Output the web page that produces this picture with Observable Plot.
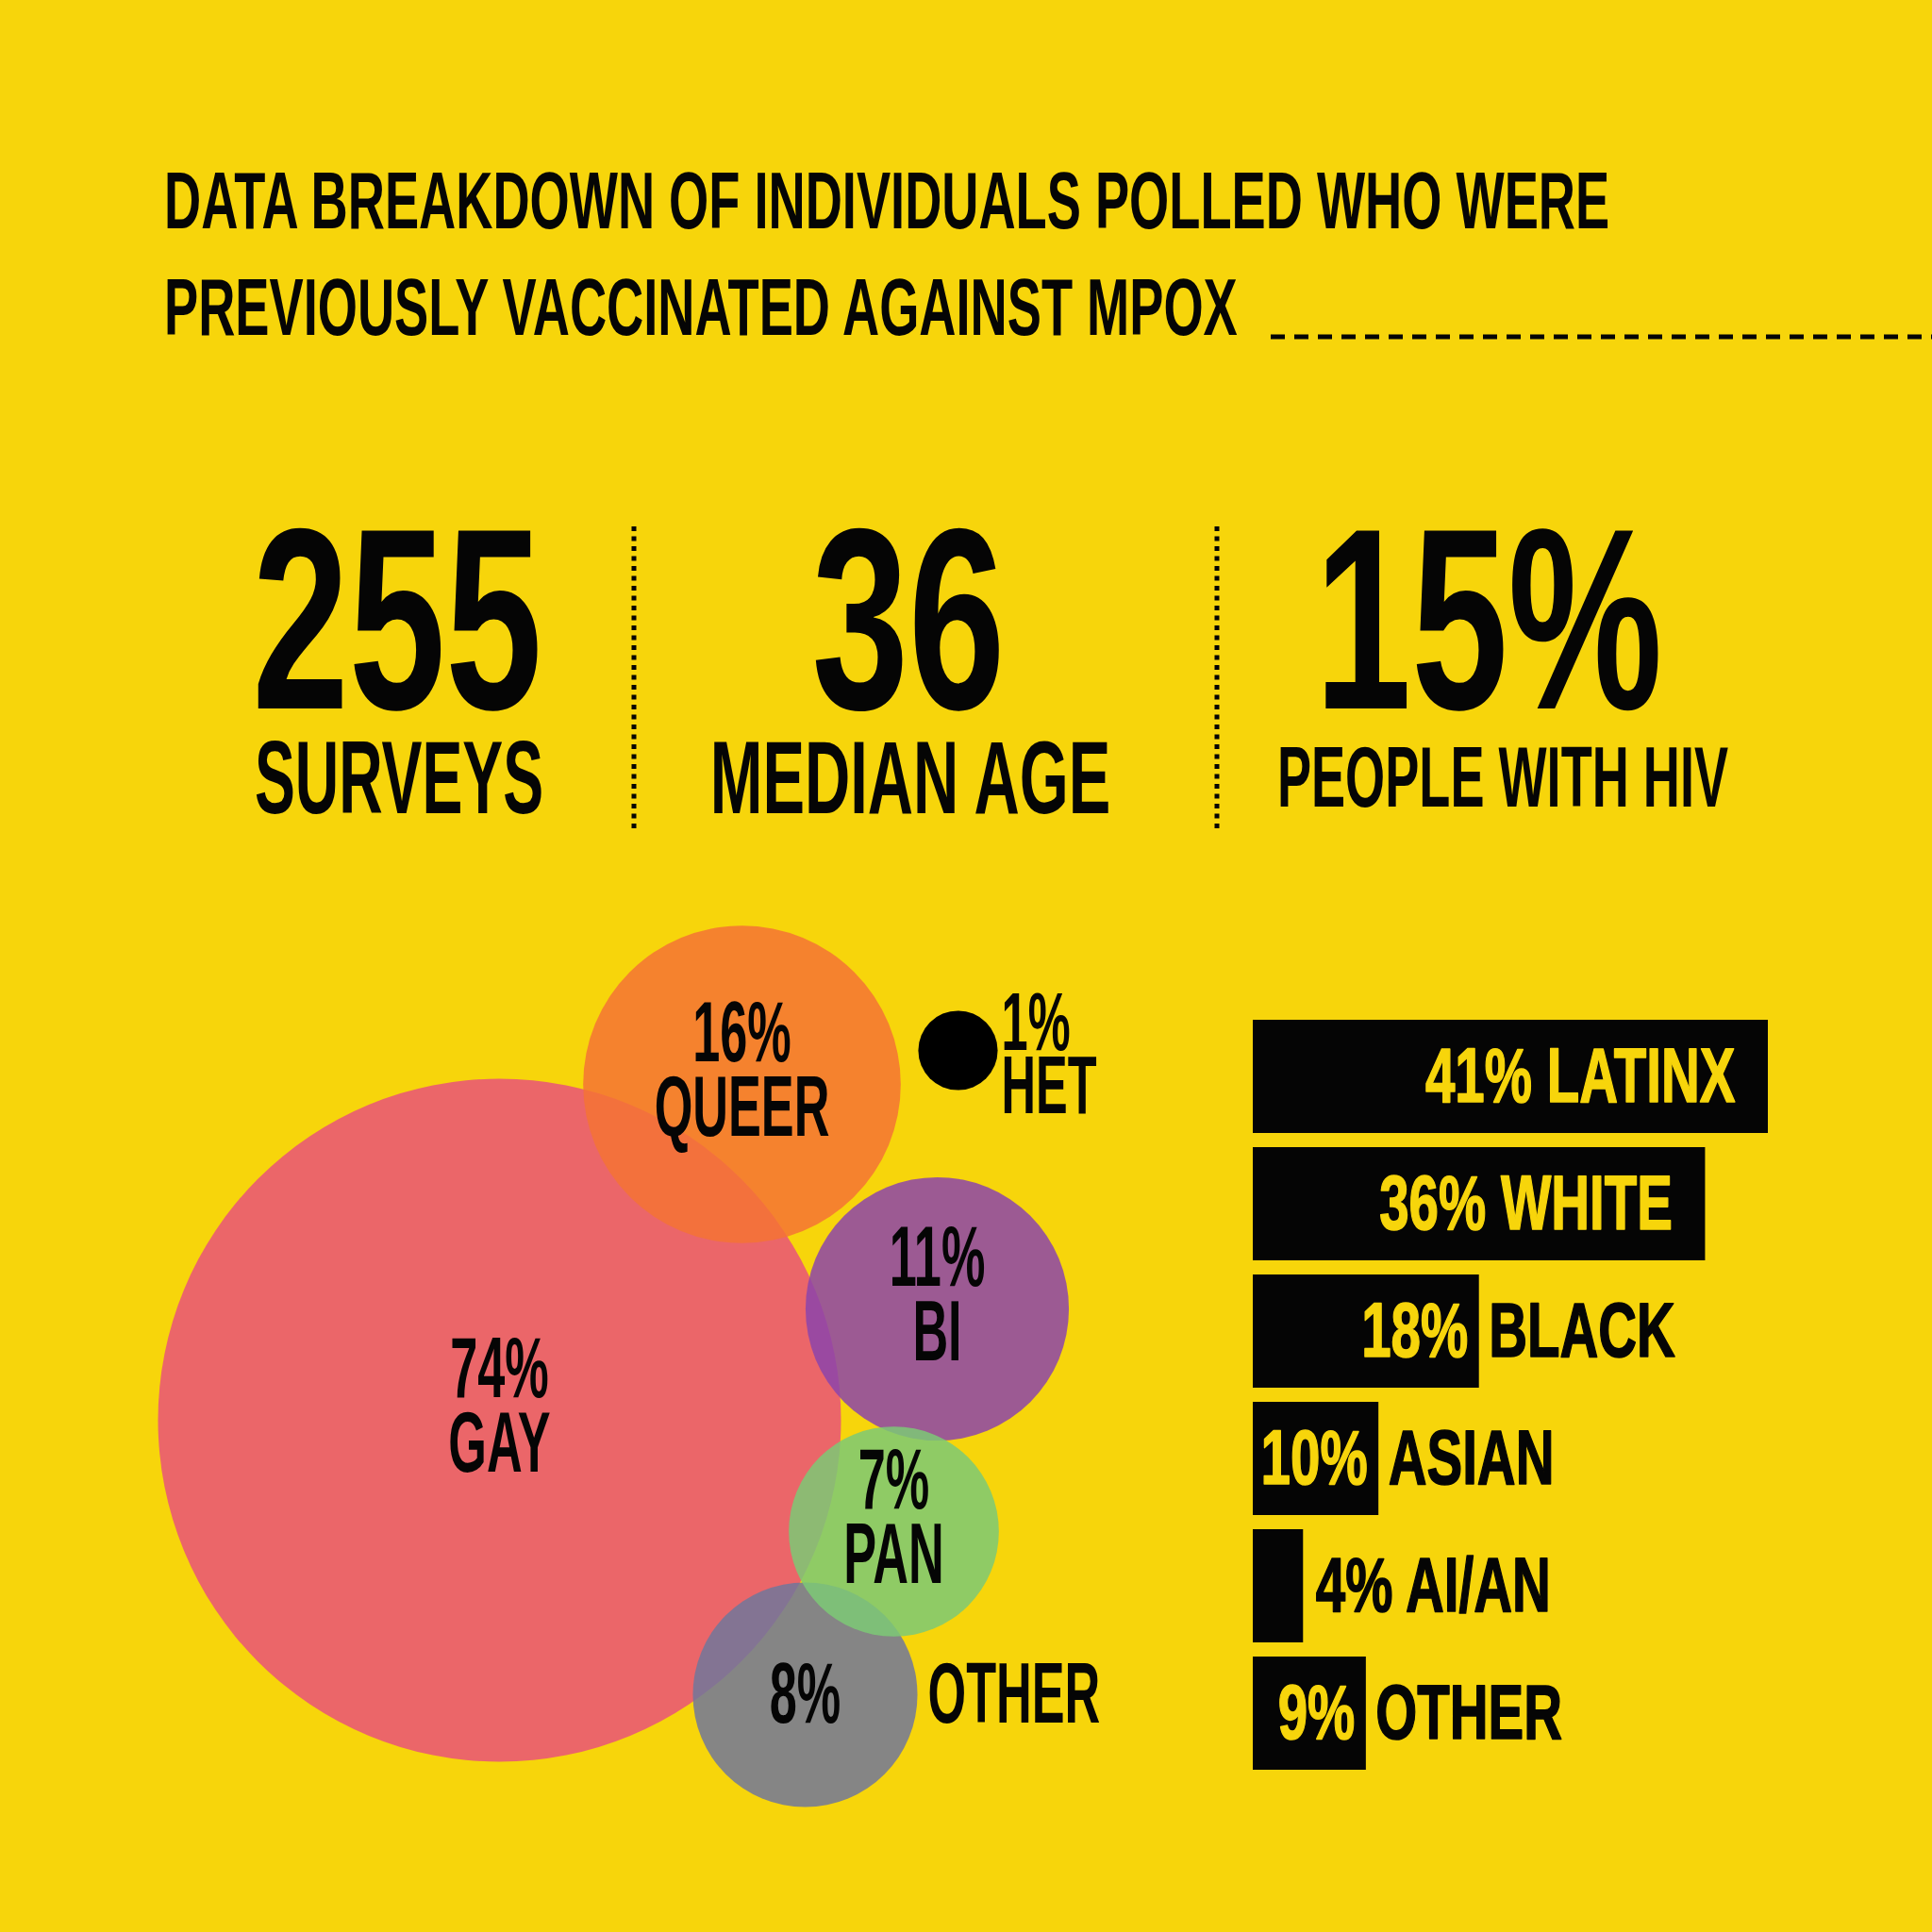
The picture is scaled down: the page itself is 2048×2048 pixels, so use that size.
<!DOCTYPE html>
<html><head><meta charset="utf-8">
<script src="https://cdn.jsdelivr.net/npm/d3@7"></script>
<script src="https://cdn.jsdelivr.net/npm/@observablehq/plot@0.6"></script>
<style>
html,body{margin:0;padding:0;background:#F7D50B;}
#page{position:relative;width:2048px;height:2048px;background:#F7D50B;overflow:hidden;}
#page > *{position:absolute;display:block;}
</style></head><body><div id="page"></div>
<script>
// ---------- data ----------
const titleLines = ["DATA BREAKDOWN OF INDIVIDUALS POLLED WHO WERE", "PREVIOUSLY VACCINATED AGAINST MPOX"];
const statValues = ["255", "36", "15%"];
const statLabels = ["SURVEYS", "MEDIAN AGE", "PEOPLE WITH HIV"];

const orientNames = ["GAY", "QUEER", "HET", "BI", "PAN", "OTHER"];
const orientPct   = [74, 16, 1, 11, 7, 8];

const raceNames = ["LATINX", "WHITE", "BLACK", "ASIAN", "AI/AN", "OTHER"];
const racePct   = [41, 36, 18, 10, 4, 9];

// ---------- layout & style ----------
const YELLOW = "#F7D50B";
const INK = "#050505";
const NARROW = "'Liberation Sans Narrow', 'Liberation Sans', Arial, sans-serif";
const orientColors = {GAY: "#E9527A", QUEER: "#F57335", HET: "#000000", BI: "#8C44AB", PAN: "#7DC976", OTHER: "#71779B"};
const drawOrder = ["QUEER", "GAY", "BI", "PAN", "OTHER", "HET"];
// bubble centres in the bubble panel's layout units
const bubbleCX = {GAY: 529, QUEER: 786, HET: 1015, BI: 993, PAN: 947, OTHER: 853};
const bubbleCY = {GAY: 555, QUEER: 199, HET: 163, BI: 437, PAN: 673, OTHER: 846};
const nameBeside = new Set(["HET", "OTHER"]);
const pctBeside = new Set(["HET"]);

// measure narrow font availability
const ctx = document.createElement("canvas").getContext("2d");
ctx.font = "bold 100px " + NARROW;
const wN = ctx.measureText("ABCDEFGHIJKLMNOP").width;
ctx.font = "bold 100px 'Liberation Sans', Arial, sans-serif";
const wR = ctx.measureText("ABCDEFGHIJKLMNOP").width;
const ratio = wN / wR;
const sx = f => f / ratio;

function condense(node, f) {
  d3.select(node).selectAll("text").each(function () {
    const t = this.getAttribute("transform") || "";
    this.setAttribute("transform", t + ` scale(${sx(f)},1)`);
  });
}

const page = document.getElementById("page");

// ---------- header ----------
const header = d3.create("svg").attr("width", 2048).attr("height", 950)
  .style("left", "0px").style("top", "0px");
const hText = (str, x, y, size, anchor, f) =>
  header.append("text").text(str)
    .attr("transform", `translate(${x},${y}) scale(${sx(f)},1)`)
    .attr("text-anchor", anchor).attr("font-family", NARROW).attr("font-weight", "bold")
    .attr("font-size", size).attr("fill", INK);

hText(titleLines[0], 174, 242, 85, "start", 0.638);
hText(titleLines[1], 174, 355, 85, "start", 0.638);
header.append("line").attr("x1", 1347).attr("x2", 2048).attr("y1", 357).attr("y2", 357)
  .attr("stroke", INK).attr("stroke-width", 5).attr("stroke-dasharray", "15,10");

const statCX = [421, 963, 1578];
const labelCX = [423, 965, 1593];
const labelSize = [109, 109, 91];
const labelBase = [862, 862, 855];
const labelFit = [0.59, 0.613, 0.595];
statValues.forEach((v, i) => hText(v, statCX[i], 751, 274, "middle", 0.672));
statLabels.forEach((v, i) => hText(v, labelCX[i], labelBase[i], labelSize[i], "middle", labelFit[i]));
[672, 1290].forEach(x => header.append("line").attr("x1", x).attr("x2", x).attr("y1", 558).attr("y2", 878)
  .attr("stroke", INK).attr("stroke-width", 5).attr("stroke-dasharray", "5,5.5"));
page.appendChild(header.node());

// ---------- bubbles ----------
const orientRows = drawOrder.map(n => {
  const i = orientNames.indexOf(n);
  return {name: n, pct: orientPct[i], cx: bubbleCX[n], cy: bubbleCY[n], color: orientColors[n]};
});
const rDomain = [0, d3.max(orientPct)], rRange = [0, 362];
const rFn = d3.scaleSqrt(rDomain, rRange);
const bubbleW = 1250, bubbleH = 1000;
const inner2 = orientRows.filter(d => !nameBeside.has(d.name));
const innerPctOnly = orientRows.filter(d => nameBeside.has(d.name) && !pctBeside.has(d.name));
const besideName = orientRows.filter(d => nameBeside.has(d.name) && !pctBeside.has(d.name));
const besideAll = orientRows.filter(d => pctBeside.has(d.name));
const txt = {fontFamily: NARROW, fontWeight: "bold", fill: INK};

const bubbles = Plot.plot({
  width: bubbleW, height: bubbleH, margin: 0,
  style: {background: "transparent", overflow: "visible"},
  x: {domain: [0, bubbleW], range: [0, bubbleW], axis: null},
  y: {domain: [0, bubbleH], range: [0, bubbleH], axis: null},
  r: {type: "sqrt", domain: rDomain, range: rRange},
  color: {type: "identity"},
  marks: [
    Plot.dot(orientRows.filter(d => d.name !== "HET"), {x: "cx", y: "cy", r: "pct", fill: "color", fillOpacity: 0.85, stroke: "none"}),
    Plot.dot(orientRows.filter(d => d.name === "HET"), {x: "cx", y: "cy", r: "pct", fill: "color", stroke: "none"}),
    Plot.text(inner2, {x: "cx", y: "cy", text: d => `${d.pct}%\n${d.name}`, fontSize: 91, lineHeight: 0.87, dy: -10, ...txt}),
    Plot.text(innerPctOnly, {x: "cx", y: "cy", text: d => `${d.pct}%`, fontSize: 91, ...txt}),
    Plot.text(besideName, {x: d => d.cx + rFn(d.pct) + 11, y: "cy", text: "name", textAnchor: "start", fontSize: 91, ...txt}),
    Plot.text(besideAll, {x: d => d.cx + rFn(d.pct) + 4, y: "cy", text: d => `${d.pct}%\n${d.name}`, textAnchor: "start", fontSize: 88, lineHeight: 0.76, dy: 12, ...txt})
  ]
});
condense(bubbles, 0.574);
bubbles.style.left = "0px"; bubbles.style.top = "950px";
page.appendChild(bubbles);

// ---------- race bars ----------
const raceRows = raceNames.map((n, i) => ({name: n, pct: racePct[i]}));
const fullIn = raceRows.filter(d => d.pct >= 30);
const split = raceRows.filter(d => d.pct < 30 && d.pct >= 8);
const fullOut = raceRows.filter(d => d.pct < 8);
const barW = 720, barH = 796;
const btxt = {fontFamily: NARROW, fontWeight: "bold", fontSize: 82, strokeWidth: 1.6};
const bars = Plot.plot({
  width: barW, height: barH, margin: 0,
  style: {background: "transparent", overflow: "visible"},
  x: {domain: [0, d3.max(racePct)], range: [0, 546], axis: null},
  y: {domain: raceNames, range: [0, barH], paddingInner: 0.11, paddingOuter: 0, axis: null},
  marks: [
    Plot.barX(raceRows, {x: "pct", y: "name", fill: INK}),
    Plot.text(fullIn, {x: "pct", y: "name", text: d => `${d.pct}% ${d.name}`, textAnchor: "end", dx: -35, fill: YELLOW, stroke: YELLOW, ...btxt}),
    Plot.text(split, {x: "pct", y: "name", text: d => `${d.pct}%`, textAnchor: "end", dx: -12, fill: YELLOW, stroke: YELLOW, ...btxt}),
    Plot.text(split, {x: "pct", y: "name", text: "name", textAnchor: "start", dx: 10, fill: INK, stroke: INK, ...btxt}),
    Plot.text(fullOut, {x: "pct", y: "name", text: d => `${d.pct}% ${d.name}`, textAnchor: "start", dx: 13, fill: INK, stroke: INK, ...btxt})
  ]
});
condense(bars, 0.689);
bars.style.left = "1328px"; bars.style.top = "1081px";
page.appendChild(bars);
</script></body></html>
